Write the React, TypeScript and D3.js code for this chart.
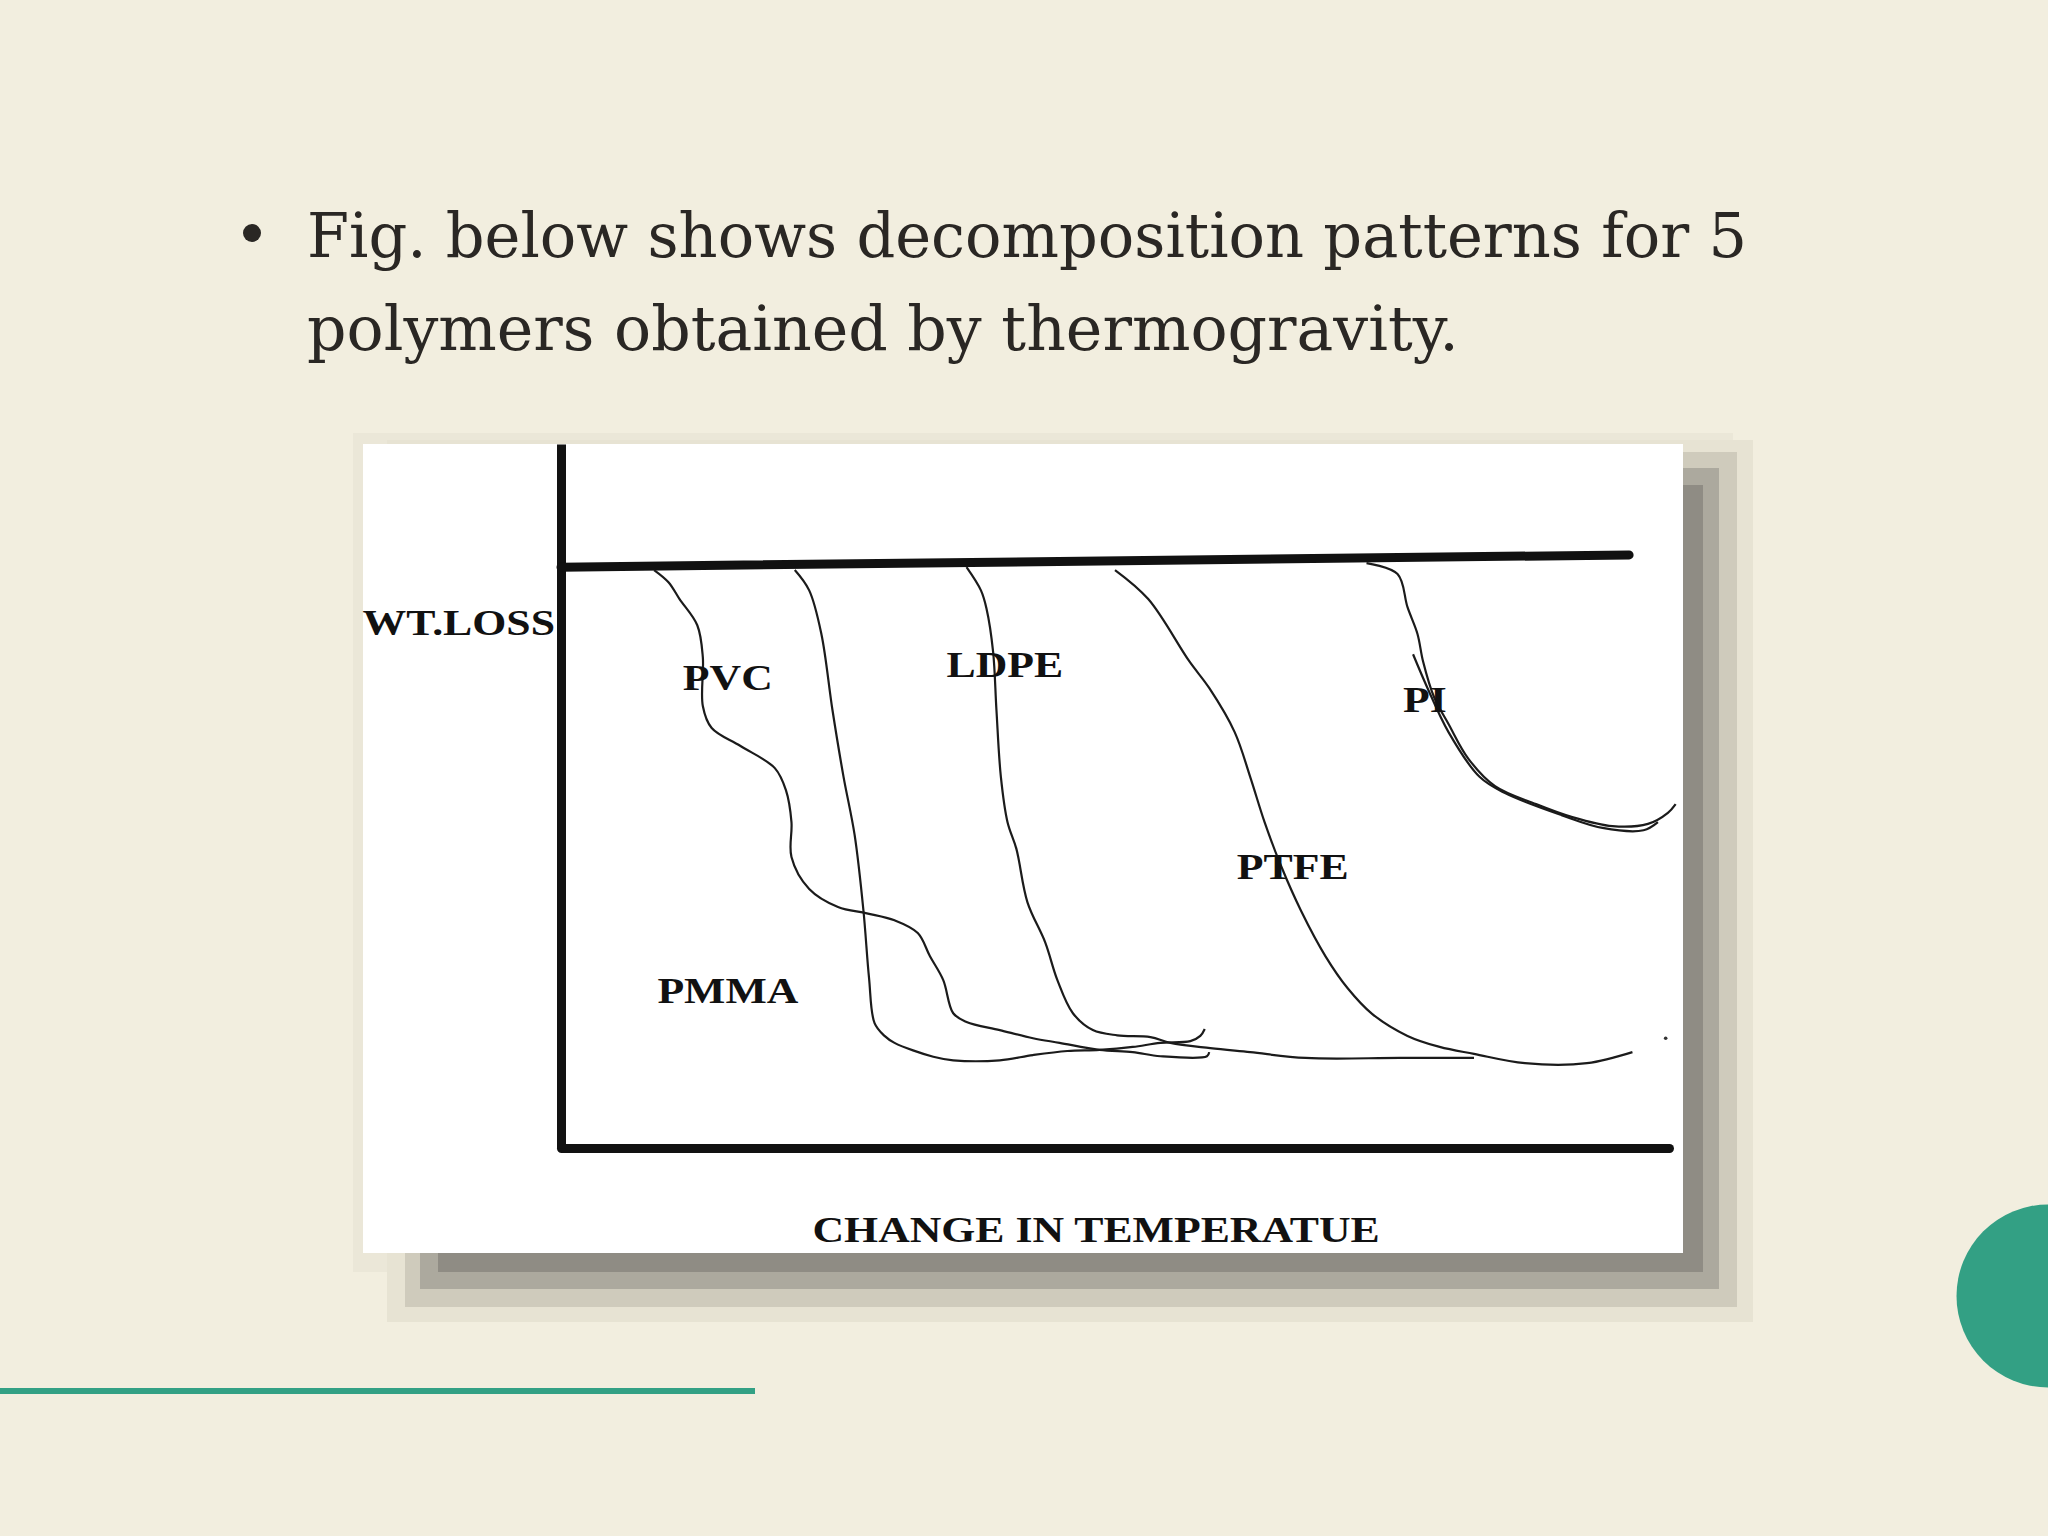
import React, { useEffect, useRef } from 'react';
import * as d3 from 'd3';

// slide text
const bulletLines = [
  'Fig. below shows decomposition patterns for 5',
  'polymers obtained by thermogravity.',
];

// thermogram traces: [temperature (arb.), weight remaining (%)]
const plateau: [number, number][] = [[0, 100], [96.4, 102.1]];

const pvc: [number, number][] = [
  [8.4, 99.5], [9.7, 97.4], [10.7, 94.5], [12.3, 90.0], [12.8, 84.5], [12.8, 76.1],
  [13.6, 72.3], [16.2, 69.2], [19.3, 65.4], [20.3, 61.6], [20.8, 56.1], [20.8, 50.1],
  [22.4, 44.6], [25.0, 41.5], [27.6, 40.4], [30.1, 39.2], [32.2, 37.0], [33.3, 33.0],
  [34.5, 28.9], [35.4, 23.2], [36.6, 21.7], [39.6, 20.3], [42.6, 18.9], [45.0, 18.1],
  [48.6, 16.9], [51.6, 16.5], [54.1, 15.8], [58.3, 15.8], [58.5, 16.5],
];

const pmma: [number, number][] = [
  [21.1, 99.5], [22.4, 96.0], [23.5, 88.5], [24.5, 75.4], [25.5, 63.9], [26.5, 53.9],
  [27.3, 40.8], [27.8, 29.3], [28.3, 21.5], [29.2, 19.3], [30.1, 18.1], [33.6, 15.7],
  [35.4, 15.1], [39.6, 15.1], [42.6, 16.0], [45.7, 16.7], [48.6, 16.9], [51.6, 17.4],
  [54.1, 18.1], [56.8, 18.4], [57.7, 19.3], [58.1, 20.5],
];

const ldpe: [number, number][] = [
  [36.6, 100.0], [37.9, 96.0], [38.4, 92.9], [39.0, 85.4], [39.3, 75.4], [39.7, 63.9],
  [40.3, 56.1], [41.1, 51.5], [42.1, 42.3], [43.7, 35.4], [44.8, 28.9], [46.2, 23.2],
  [48.0, 20.3], [50.2, 19.4], [53.2, 19.1], [55.0, 18.1], [58.6, 17.2], [62.2, 16.5],
  [67.2, 15.5], [75.7, 15.5], [82.4, 15.5],
];

const ptfe: [number, number][] = [
  [50.0, 99.5], [53.0, 94.5], [56.7, 83.8], [58.5, 79.2], [60.8, 71.6], [62.2, 63.9],
  [63.5, 56.1], [65.0, 48.5], [66.8, 40.8], [69.0, 33.0], [71.0, 27.5], [73.2, 23.1],
  [76.4, 19.3], [79.3, 17.4], [82.4, 16.2], [87.0, 14.6], [92.6, 14.6], [96.7, 16.5],
];

const pi: [number, number][] = [
  [72.7, 100.7], [75.5, 98.8], [76.4, 93.1], [77.3, 88.5], [77.8, 83.8], [78.8, 77.6],
  [80.1, 73.0], [81.9, 67.0], [84.3, 62.3], [88.0, 59.2], [91.2, 57.0], [94.9, 55.4],
  [98.1, 55.8], [99.9, 57.7], [100.6, 59.2],
];

// second pencil pass over the PI trace
const piRetrace: [number, number][] = [
  [76.9, 85.0], [78.2, 79.2], [80.1, 71.6], [82.9, 63.9], [85.2, 61.1], [90.3, 57.3],
  [94.0, 55.1], [97.7, 54.7], [99.0, 56.1],
];

const strayDot: [number, number][] = [[99.7, 18.9]];

const curveLabels = ['PVC', 'LDPE', 'PMMA', 'PI', 'PTFE'];
const labelT = [11.0, 34.8, 8.7, 76.0, 61.0];
const labelW = [78.8, 81.1, 25.0, 75.1, 46.3];

const yTitle = 'WT.LOSS';
const xTitle = 'CHANGE IN TEMPERATUE';
const xTitleT = 22.7;

const App = () => {
  const ref = useRef<SVGSVGElement>(null);

  useEffect(() => {
    const svg = d3.select(ref.current);
    svg.selectAll('*').remove();

    const W = 2048, H = 1536;
    const bg = '#f2eedf';
    const teal = '#33a084';
    const ink = '#111';

    svg.append('rect').attr('width', W).attr('height', H).attr('fill', bg);

    // bullet text
    const title = svg.append('g')
      .style('font-family', '"DejaVu Serif", serif')
      .style('font-size', '62px')
      .attr('fill', '#2a2724');
    title.append('circle').attr('cx', 252).attr('cy', 233).attr('r', 9);
    const lineWidths = [1440, 1152];
    bulletLines.forEach((s, i) => {
      title.append('text')
        .attr('x', 307).attr('y', 257 + i * 93)
        .attr('textLength', lineWidths[i]).attr('lengthAdjust', 'spacingAndGlyphs')
        .text(s);
    });

    // decorations
    svg.append('line')
      .attr('x1', 0).attr('x2', 755).attr('y1', 1391).attr('y2', 1391)
      .attr('stroke', teal).attr('stroke-width', 6);
    svg.append('circle').attr('cx', 2048).attr('cy', 1296).attr('r', 91.5).attr('fill', teal);

    // picture frame + shadow
    const panel = { x: 363, y: 444, w: 1320, h: 809 };
    svg.append('rect')
      .attr('x', panel.x - 10).attr('y', panel.y - 11)
      .attr('width', panel.w + 60).attr('height', panel.h + 30)
      .attr('fill', '#ebe7d8');
    const shadows = [
      { l: 24, t: -4, r: 70, b: 69, fill: '#e7e3d3' },
      { l: 42, t: 8, r: 54, b: 54, fill: '#cfcbbc' },
      { l: 57, t: 24, r: 36, b: 36, fill: '#aca99e' },
      { l: 75, t: 41, r: 20, b: 19, fill: '#8f8c84' },
    ];
    shadows.forEach(s => {
      svg.append('rect')
        .attr('x', panel.x + s.l).attr('y', panel.y + s.t)
        .attr('width', panel.w + s.r - s.l).attr('height', panel.h + s.b - s.t)
        .attr('fill', s.fill);
    });
    svg.append('rect')
      .attr('x', panel.x).attr('y', panel.y)
      .attr('width', panel.w).attr('height', panel.h)
      .attr('fill', '#fff');

    // scales
    const x = d3.scaleLinear().domain([0, 100]).range([panel.x + 198, panel.x + 1306]);
    const y = d3.scaleLinear().domain([0, 121.2]).range([panel.y + 704, panel.y]);

    // axes
    const xAxis = svg.append('g')
      .attr('transform', `translate(0,${y(0)})`)
      .call(d3.axisBottom(x).tickValues([]).tickSizeOuter(0));
    xAxis.select('.domain')
      .attr('stroke', ink).attr('stroke-width', 9).attr('stroke-linecap', 'round');

    const yAxis = svg.append('g')
      .attr('transform', `translate(${x(0)},0)`)
      .call(d3.axisLeft(y).tickValues([]).tickSizeOuter(0));
    yAxis.select('.domain').attr('stroke', ink).attr('stroke-width', 9);

    const line = d3.line<[number, number]>()
      .x(d => x(d[0]))
      .y(d => y(d[1]));

    // 100% plateau
    svg.append('path')
      .attr('d', line(plateau))
      .attr('fill', 'none').attr('stroke', ink)
      .attr('stroke-width', 9).attr('stroke-linecap', 'round');

    // decomposition traces
    const smooth = line.curve(d3.curveCatmullRom.alpha(0.5));
    [pvc, pmma, ldpe, ptfe, pi, piRetrace].forEach(c => {
      svg.append('path')
        .attr('d', smooth(c))
        .attr('fill', 'none').attr('stroke', '#1b1b1b')
        .attr('stroke-width', 2.2).attr('stroke-linejoin', 'round');
    });
    svg.selectAll('.dot').data(strayDot).enter().append('circle')
      .attr('cx', d => x(d[0])).attr('cy', d => y(d[1])).attr('r', 1.8).attr('fill', '#333');

    // labels (the figure is stretched horizontally)
    const stretch = 1.25;
    const labels = svg.append('g')
      .style('font-family', '"Liberation Serif", "Times New Roman", serif')
      .style('font-size', '35px')
      .style('font-weight', 'bold')
      .attr('fill', ink);

    const widen = (t: any, k = stretch) => {
      const n = (t.node() as SVGTextElement).getComputedTextLength();
      t.attr('textLength', n * k).attr('lengthAdjust', 'spacingAndGlyphs');
      return n * k;
    };

    curveLabels.forEach((s, i) => {
      const t = labels.append('text').attr('x', x(labelT[i])).attr('y', y(labelW[i])).text(s);
      widen(t);
    });

    const yt = labels.append('text').attr('y', y(88.3)).text(yTitle);
    const yw = widen(yt);
    yt.attr('x', x(0) - 6 - yw);

    const xt = labels.append('text').attr('x', x(xTitleT)).attr('y', y(0) + 94).text(xTitle);
    widen(xt, 1.25);
  }, []);

  return (
    <svg ref={ref} width={2048} height={1536}
      style={{ position: 'absolute', left: 0, top: 0, display: 'block' }} />
  );
};

export default App;
